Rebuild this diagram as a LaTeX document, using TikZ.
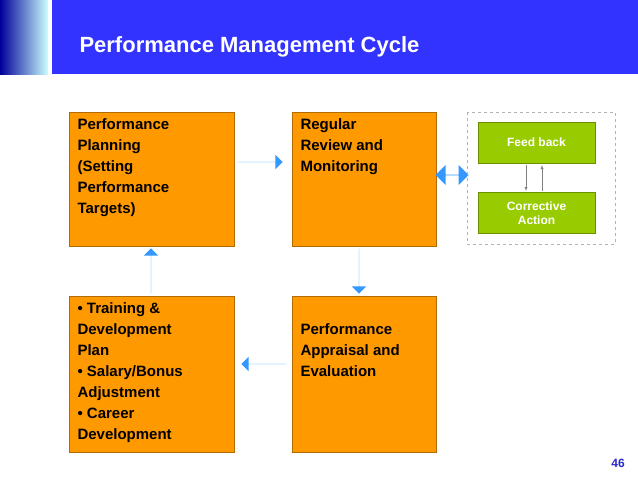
\documentclass[tikz,border=0pt]{standalone}
\usepackage{fontspec}
\setmainfont{Liberation Sans}
\usetikzlibrary{shapes.arrows}
\definecolor{hdr}{HTML}{3333FF}
\definecolor{org}{HTML}{FF9900}
\definecolor{grn}{HTML}{99CC00}
\definecolor{arr}{HTML}{3399FF}
\begin{document}
\begin{tikzpicture}[x=1pt,y=-1pt,
 obox/.style={draw=org!70!black,fill=org,line width=0.8pt,minimum width=#1,inner sep=0pt},
 gbox/.style={fill=grn,draw=grn!70!black,minimum width=117pt,minimum height=41pt,font=\bfseries\fontsize{12}{14}\selectfont,text=white,align=center},
 bt/.style={font=\bfseries\fontsize{15}{21}\selectfont,align=left,anchor=north west},
 barr/.style={single arrow,fill=arr,draw=none,single arrow head extend=7pt,single arrow tip angle=90,inner sep=0pt,minimum height=#1,minimum width=14pt,anchor=center}]
\useasboundingbox (0,0) rectangle (638,479);
\fill[white] (0,0) rectangle (638,479);
\shade[left color=blue!60!black,right color=cyan!20] (0,0) rectangle (48,74);
\fill[hdr] (52,0) rectangle (638,74);
\node[anchor=west,text=white,font=\bfseries\fontsize{22}{26}\selectfont] (title) at (76,47) {Performance Management Cycle};
\fill[obox=0] (69,112) rectangle (234,246); \draw[org!70!black] (69,112) rectangle (234,246);
\node[bt] (b1) at (74,115) {Performance\\Planning\\(Setting\\Performance\\Targets)};
\fill[org] (292,112) rectangle (436,246); \draw[org!70!black] (292,112) rectangle (436,246);
\node[bt] (b2) at (297,115) {Regular\\Review and\\Monitoring};
\fill[org] (69,296) rectangle (234,452); \draw[org!70!black] (69,296) rectangle (234,452);
\node[bt] (b3) at (74,299) {• Training \&\\Development\\Plan\\• Salary/Bonus\\Adjustment\\• Career\\Development};
\fill[org] (292,296) rectangle (436,452); \draw[org!70!black] (292,296) rectangle (436,452);
\node[bt] (b4) at (297,320) {Performance\\Appraisal and\\Evaluation};
\node[barr=45pt] (a1) at (260,162) {};
\node[barr=45pt,rotate=-90] (a2) at (359,271) {};
\node[barr=45pt,rotate=180] (a3) at (264,364) {};
\node[barr=45pt,rotate=90] (a4) at (151,271) {};
\node[double arrow,fill=arr,double arrow head extend=6pt,double arrow tip angle=90,inner sep=0pt,minimum height=33pt,minimum width=20pt] (a5) at (452,175) {};
\draw[gray!60,dashed] (467,112) rectangle (615,244);
\node[gbox] (fb) at (536.5,142.5) {Feed back};
\node[gbox] (ca) at (536.5,213) {Corrective\\Action};
\draw[gray,-latex] (526,165) -- (526,191);
\draw[gray,-latex] (542,191) -- (542,165);
\node[text=hdr!80!black,font=\bfseries\fontsize{12}{14}\selectfont] (pg) at (618,463) {46};
\end{tikzpicture}
\end{document}
